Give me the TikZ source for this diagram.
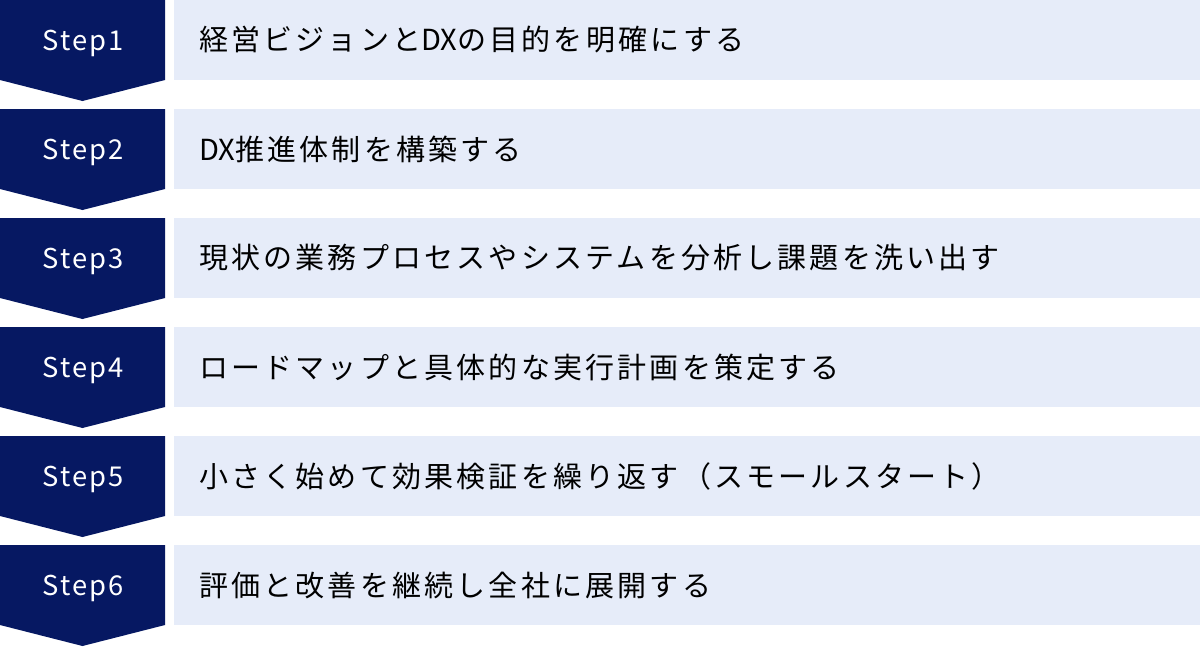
\documentclass[tikz,border=0pt]{standalone}
\usepackage{fontspec}
\setmainfont{Noto Sans CJK JP}[LetterSpace=11]
\newfontfamily\stepfont[LetterSpace=8]{Noto Sans CJK JP}
\newcommand{\tightrun}[1]{{\addfontfeature{LetterSpace=0}#1}}
\definecolor{stepnavy}{RGB}{6,24,98}
\definecolor{rowpale}{RGB}{230,236,249}

\begin{document}
\begin{tikzpicture}[x=0.75pt,y=0.75pt,yscale=-1,xscale=1,
		steplabel/.style={anchor=base,text=white,inner sep=0pt,font=\stepfont\fontsize{20.5}{24}\selectfont},
		rowtext/.style={anchor=west,inner sep=0pt,font=\fontsize{21.75}{26}\selectfont}]
		\useasboundingbox (0,0) rectangle (1200,647);
		% step 1
		\fill [stepnavy] (0,0) -- (165,0) -- (165,80) -- (82.5,101) -- (0,80) -- cycle ;
		\fill [rowpale] (174,0) rectangle (1200,80) ;
		\draw (83,50) node [steplabel] (stp1) {Step1};
		\draw (199,40) node [rowtext] (txt1) {経営ビジョンと\tightrun{DX}の目的を明確にする};
		% step 2
		\fill [stepnavy] (0,109) -- (165,109) -- (165,189) -- (82.5,210) -- (0,189) -- cycle ;
		\fill [rowpale] (174,109) rectangle (1200,189) ;
		\draw (83,159) node [steplabel] (stp2) {Step2};
		\draw (199,149) node [rowtext] (txt2) {\tightrun{DX}推進体制を構築する};
		% step 3
		\fill [stepnavy] (0,218) -- (165,218) -- (165,298) -- (82.5,319) -- (0,298) -- cycle ;
		\fill [rowpale] (174,218) rectangle (1200,298) ;
		\draw (83,268) node [steplabel] (stp3) {Step3};
		\draw (199,258) node [rowtext] (txt3) {現状の業務プロセスやシステムを分析し課題を洗い出す};
		% step 4
		\fill [stepnavy] (0,327) -- (165,327) -- (165,407) -- (82.5,428) -- (0,407) -- cycle ;
		\fill [rowpale] (174,327) rectangle (1200,407) ;
		\draw (83,377) node [steplabel] (stp4) {Step4};
		\draw (199,367) node [rowtext] (txt4) {ロードマップと具体的な実行計画を策定する};
		% step 5
		\fill [stepnavy] (0,436) -- (165,436) -- (165,516) -- (82.5,537) -- (0,516) -- cycle ;
		\fill [rowpale] (174,436) rectangle (1200,516) ;
		\draw (83,486) node [steplabel] (stp5) {Step5};
		\draw (199,476) node [rowtext] (txt5) {小さく始めて効果検証を繰り返す（スモールスタート）};
		% step 6
		\fill [stepnavy] (0,545) -- (165,545) -- (165,625) -- (82.5,646) -- (0,625) -- cycle ;
		\fill [rowpale] (174,545) rectangle (1200,625) ;
		\draw (83,595) node [steplabel] (stp6) {Step6};
		\draw (199,585) node [rowtext] (txt6) {評価と改善を継続し全社に展開する};
	\end{tikzpicture}
\end{document}
